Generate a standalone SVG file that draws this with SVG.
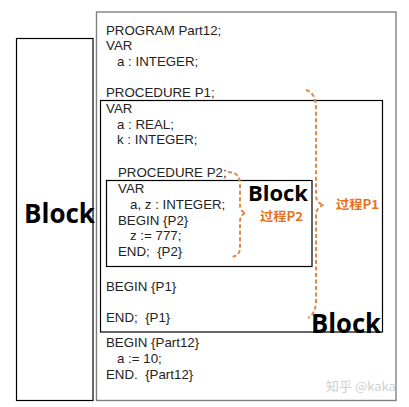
<svg xmlns="http://www.w3.org/2000/svg" width="409" height="407" viewBox="0 0 409 407">
<style>
.code{font-family:"Liberation Sans",Arial,sans-serif;font-size:13.3px;fill:#222;white-space:pre}
.blk{font-family:"Open Sans","Noto Sans",sans-serif;font-weight:bold;fill:#000}
.lbl{font-family:"Noto Sans CJK SC","Liberation Sans",sans-serif;font-weight:bold;font-size:12.5px;fill:#E8701E}
.brace{fill:none;stroke:#DD8A4E;stroke-width:2;stroke-dasharray:4 2.5;stroke-linecap:butt}
.box{fill:none;stroke:#000;stroke-width:1.2}
</style>
<rect width="409" height="407" fill="#fff"/>
<g id="program">
<rect x="96.5" y="12" width="299.5" height="388.5" fill="none" stroke="#808080" stroke-width="1.4"/>
<text class="code" x="106" y="35">PROGRAM Part12;</text>
<text class="code" x="106" y="50">VAR</text>
<text class="code" x="117" y="66">a : INTEGER;</text>
<text class="code" x="106" y="97">PROCEDURE P1;</text>
<text class="code" x="106" y="347">BEGIN {Part12}</text>
<text class="code" x="117" y="363">a := 10;</text>
<text class="code" x="106" y="379" xml:space="preserve">END.  {Part12}</text>
</g>
<g id="block-left">
<rect class="box" x="16.5" y="38.5" width="76.5" height="362"/>
<text class="blk" x="24" y="222.5" font-size="26" textLength="71" lengthAdjust="spacingAndGlyphs">Block</text>
</g>
<g id="p1">
<rect class="box" x="100.5" y="100.5" width="282" height="231.5"/>
<text class="code" x="106" y="113">VAR</text>
<text class="code" x="117" y="129">a : REAL;</text>
<text class="code" x="117" y="144">k : INTEGER;</text>
<text class="code" x="118" y="177">PROCEDURE P2;</text>
<text class="code" x="106" y="291">BEGIN {P1}</text>
<text class="code" x="106" y="322" xml:space="preserve">END;  {P1}</text>
<text class="blk" x="311" y="332.5" font-size="26" textLength="70" lengthAdjust="spacingAndGlyphs">Block</text>
<text class="lbl" x="336" y="209" textLength="43" lengthAdjust="spacingAndGlyphs">过程P1</text>
</g>
<g id="p2">
<rect class="box" x="106.5" y="180.5" width="205.5" height="86"/>
<text class="code" x="118" y="193">VAR</text>
<text class="code" x="130" y="209">a, z : INTEGER;</text>
<text class="code" x="118" y="225">BEGIN {P2}</text>
<text class="code" x="130" y="240">z := 777;</text>
<text class="code" x="118" y="256" xml:space="preserve">END;  {P2}</text>
<text class="blk" x="248" y="201" font-size="22" textLength="60" lengthAdjust="spacingAndGlyphs">Block</text>
<text class="lbl" x="260" y="220.5" textLength="43" lengthAdjust="spacingAndGlyphs">过程P2</text>
</g>
<g id="connectors">
<path class="brace" d="M228,172 C236,172 240,176 240,184 L240,204 C240,210 242,212 246,213 C242,214 240,217 240,222 L240,248 C240,254 236,257 230,257"/>
<path class="brace" d="M306,90 C313,92 316,98 316,110 L316,195 C316,201 319,204 324,205 C319,206 316,210 316,216 L316,300 C316,310 313,315 308,318"/>
</g>
<text x="326" y="391" font-family="'Noto Sans CJK SC','Liberation Sans',sans-serif" font-size="13" fill="#d0d0d0">知乎 @kaka</text>
</svg>
